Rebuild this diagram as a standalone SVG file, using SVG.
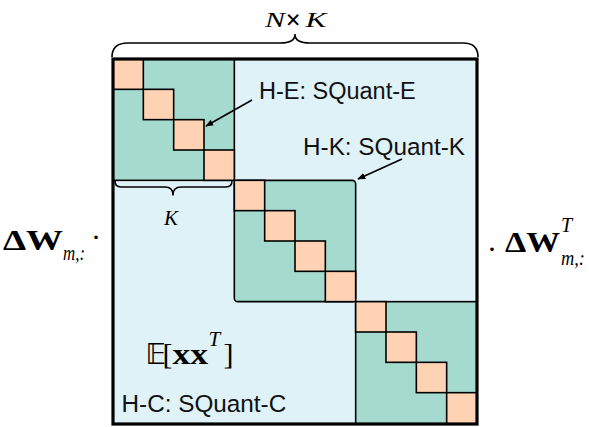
<svg xmlns="http://www.w3.org/2000/svg" width="589" height="427" viewBox="0 0 589 427">
<style>
.bg{fill:#dff2f8;stroke:none}
.blk{fill:#a5dacf;stroke:#000;stroke-width:1.6}
.sq{fill:#fed2b3;stroke:#000;stroke-width:1.6}
.frame{fill:none;stroke:#000;stroke-width:3.2}
.brace{fill:none;stroke:#000;stroke-width:1.6;stroke-linejoin:round}
.lbl{font-family:"Liberation Sans",Arial,sans-serif;fill:#111}
.math{font-family:"Liberation Serif","Times New Roman",serif;fill:#000}
.arr{stroke:#000;stroke-width:1.6;fill:none}
</style>
<defs>
<marker id="ah" viewBox="0 0 10 10" refX="9" refY="5" markerWidth="8" markerHeight="8" markerUnits="userSpaceOnUse" orient="auto">
<path d="M0,1 L10,5 L0,9 Z" fill="#000"/>
</marker>
</defs>
<rect width="589" height="427" fill="#fff"/>
<g id="matrix">
<rect class="bg" x="113" y="59" width="364" height="365"/>
</g>
<g id="block1">
<rect class="blk" x="113" y="59" width="121.33" height="121.33"/>
<rect class="sq" x="113" y="59" width="30.33" height="30.33"/>
<rect class="sq" x="143.33" y="89.33" width="30.33" height="30.33"/>
<rect class="sq" x="173.67" y="119.67" width="30.33" height="30.33"/>
<rect class="sq" x="204" y="150" width="30.33" height="30.33"/>
</g>
<g id="block2">
<rect class="blk" x="234.33" y="180.33" width="121.33" height="121.33" rx="3.5"/>
<rect class="sq" x="234.33" y="180.33" width="30.33" height="30.33"/>
<rect class="sq" x="264.67" y="210.67" width="30.33" height="30.33"/>
<rect class="sq" x="295" y="241" width="30.33" height="30.33"/>
<rect class="sq" x="325.33" y="271.33" width="30.33" height="30.33"/>
</g>
<g id="block3">
<rect class="blk" x="355.67" y="301.67" width="121.33" height="122.33"/>
<rect class="sq" x="355.67" y="301.67" width="30.33" height="30.33"/>
<rect class="sq" x="386" y="332" width="30.33" height="30.33"/>
<rect class="sq" x="416.33" y="362.33" width="30.33" height="30.33"/>
<rect class="sq" x="446.67" y="392.67" width="30.33" height="31.33"/>
</g>
<g id="frame">
<rect class="frame" x="113" y="59" width="364" height="365"/>
</g>
<g id="braces">
<path class="brace" d="M112,57 Q112,43 128,43 L280,43 Q295,43 295,34.5 Q295,43 310,43 L463,43 Q478,43 478,57"/>
<path class="brace" d="M115,181 Q115,187 121,187 L165,187 Q173,187 173,195 Q173,187 181,187 L226,187 Q232,187 232,181"/>
</g>
<g id="connectors">
<line class="arr" x1="252" y1="100" x2="206" y2="126" marker-end="url(#ah)"/>
<line class="arr" x1="402" y1="159" x2="358" y2="179" marker-end="url(#ah)"/>
</g>
<g id="labels">
<text class="lbl" x="259" y="99.3" font-size="23.5">H-E: SQuant-E</text>
<text class="lbl" x="303" y="155" font-size="24.3">H-K: SQuant-K</text>
<text class="lbl" x="121.5" y="411.7" font-size="24.3">H-C: SQuant-C</text>
</g>
<g id="math">
<text class="math" x="265" y="26.7" font-size="22" font-style="italic" textLength="20" lengthAdjust="spacingAndGlyphs">N</text>
<text class="math" x="285.5" y="29" font-size="27" font-weight="bold">×</text>
<text class="math" x="305.5" y="26.7" font-size="22" font-style="italic" textLength="21" lengthAdjust="spacingAndGlyphs">K</text>
<text class="math" x="164" y="225" font-size="21" font-style="italic">K</text>
<text class="math" x="3" y="250.3" font-size="30" font-weight="bold" textLength="60" lengthAdjust="spacingAndGlyphs">ΔW</text>
<text class="math" x="63" y="260.3" font-size="20" font-style="italic" textLength="22" lengthAdjust="spacingAndGlyphs">m,:</text>
<text class="math" x="91" y="247" font-size="30">·</text>
<text class="math" x="487" y="259" font-size="30">·</text>
<text class="math" x="505" y="251.7" font-size="30" font-weight="bold" textLength="55" lengthAdjust="spacingAndGlyphs">ΔW</text>
<text class="math" x="561" y="232" font-size="20" font-style="italic">T</text>
<text class="math" x="561" y="265" font-size="20" font-style="italic" textLength="24" lengthAdjust="spacingAndGlyphs">m,:</text>
<text class="math" y="364" font-size="30"><tspan x="145.5" font-family="'DejaVu Sans',sans-serif" font-size="28">𝔼</tspan><tspan x="162.5">[</tspan></text>
<text class="math" x="172.5" y="364" font-size="30" font-weight="bold" textLength="35.5" lengthAdjust="spacingAndGlyphs">xx</text>
<text class="math" x="208.5" y="346" font-size="21" font-style="italic">T</text>
<text class="math" x="223.5" y="364" font-size="30">]</text>
</g>
</svg>
